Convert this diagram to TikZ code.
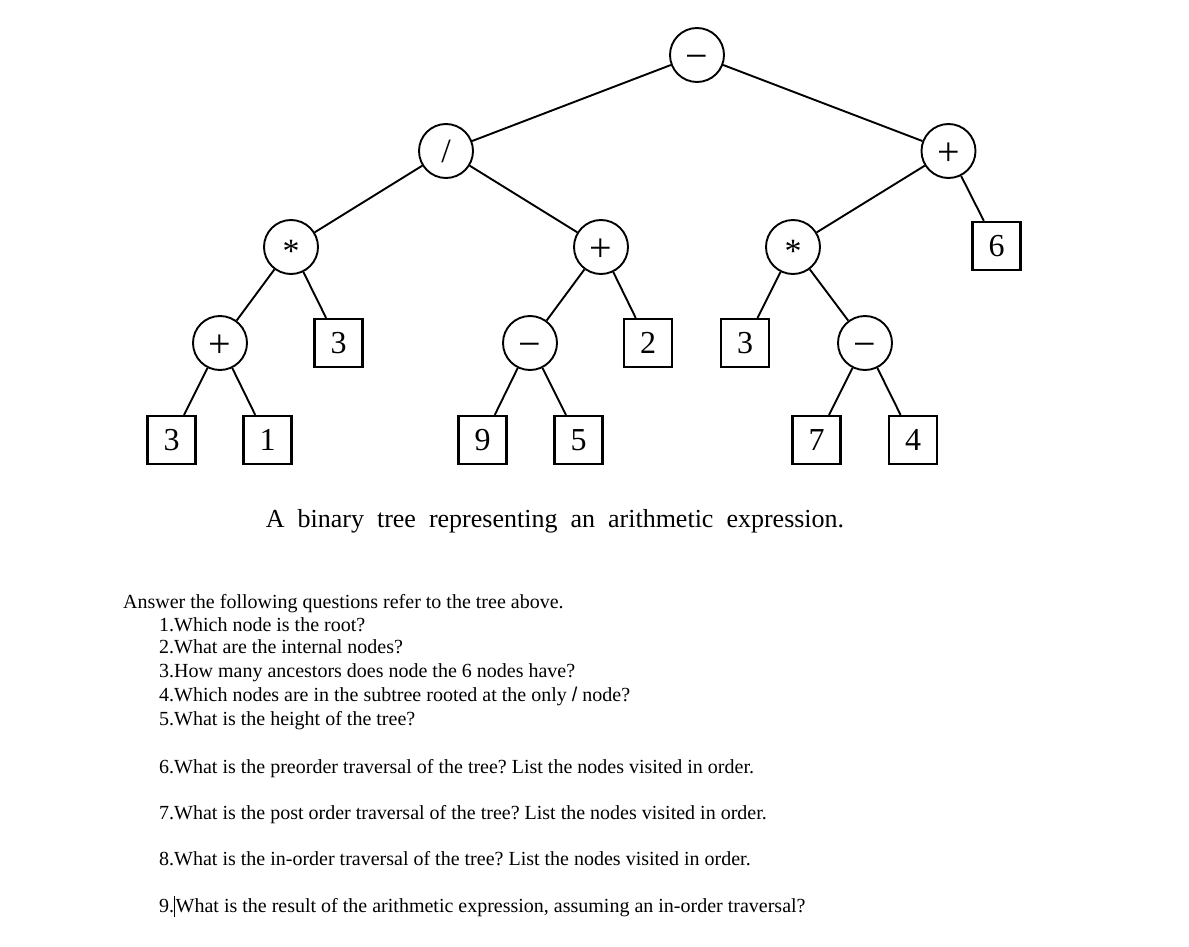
\documentclass[tikz,border=0pt]{standalone}
\usepackage{fontspec}
\setmainfont{Liberation Serif}
\setsansfont{Liberation Sans}
\frenchspacing
\begin{document}
\begin{tikzpicture}[x=1pt,y=-1pt,
  op/.style={draw,circle,line width=1.9pt,minimum size=54pt,inner sep=0pt,font=\fontsize{40}{40}\selectfont,text height=28.4pt,text depth=0pt},
  opminus/.style={op,text height=29pt,text depth=0pt},
  opast/.style={op,font=\fontsize{34}{34}\selectfont,text height=30pt,text depth=0pt},
  opdiv/.style={op,font=\fontsize{34}{34}\selectfont,text height=22.6pt,text depth=0pt},
  leaf/.style={draw,rectangle,line width=2.2pt,minimum size=48pt,inner sep=0pt,font=\fontsize{32}{32}\selectfont,text height=21.6pt,text depth=0pt},
  edge/.style={line width=1.9pt},
  qtext/.style={anchor=base west,inner sep=0pt,font=\fontsize{20}{20}\selectfont},
  captext/.style={anchor=base,inner sep=0pt,font=\fontsize{26}{26}\selectfont}]
\useasboundingbox (0,0) rectangle (1189,947);
% internal nodes
\node[opminus] (root) at (697,55) {−};
\node[opdiv] (div) at (446,151) {/};
\node[op] (plusR) at (948.5,151) {+};
\node[opast] (mulL) at (291,247) {*};
\node[op] (plusM) at (601,247) {+};
\node[opast] (mulR) at (793,247) {*};
\node[op] (plusL) at (220,343) {+};
\node[opminus] (minM) at (530,343) {−};
\node[opminus] (minR) at (865,343) {−};
% leaves
\node[leaf] (l6) at (996.5,246) {6};
\node[leaf] (l3a) at (338.5,343) {3};
\node[leaf] (l2) at (648,343) {2};
\node[leaf] (l3b) at (745,343) {3};
\node[leaf] (l3c) at (171.5,440) {3};
\node[leaf] (l1) at (267.5,440) {1};
\node[leaf] (l9) at (482.5,440) {9};
\node[leaf] (l5) at (578.5,440) {5};
\node[leaf] (l7) at (816.5,440) {7};
\node[leaf] (l4) at (913,440) {4};
% edges
\draw[edge] (root) -- (div);
\draw[edge] (root) -- (plusR);
\draw[edge] (div) -- (mulL);
\draw[edge] (div) -- (plusM);
\draw[edge] (plusR) -- (mulR);
\draw[edge] (plusR) -- (l6);
\draw[edge] (mulL) -- (plusL);
\draw[edge] (mulL) -- (l3a);
\draw[edge] (plusM) -- (minM);
\draw[edge] (plusM) -- (l2);
\draw[edge] (mulR) -- (l3b);
\draw[edge] (mulR) -- (minR);
\draw[edge] (plusL) -- (l3c);
\draw[edge] (plusL) -- (l1);
\draw[edge] (minM) -- (l9);
\draw[edge] (minM) -- (l5);
\draw[edge] (minR) -- (l7);
\draw[edge] (minR) -- (l4);
% caption
\node[captext] (cap) at (555,527) {A\ \ binary\ \ tree\ \ representing\ \ an\ \ arithmetic\ \ expression.};
% questions
\node[qtext] (q0) at (123,608) {Answer the following questions refer to the tree above.};
\node[qtext] (q1) at (159,631) {1.Which node is the root?};
\node[qtext] (q2) at (159,653) {2.What are the internal nodes?};
\node[qtext] (q3) at (159,677) {3.How many ancestors does node the 6 nodes have?};
\node[qtext] (q4) at (159,701) {4.Which nodes are in the subtree rooted at the only {\sffamily /} node?};
\node[qtext] (q5) at (159,725) {5.What is the height of the tree?};
\node[qtext] (q6) at (159,773) {6.What is the preorder traversal of the tree? List the nodes visited in order.};
\node[qtext] (q7) at (159,819) {7.What is the post order traversal of the tree? List the nodes visited in order.};
\node[qtext] (q8) at (159,865) {8.What is the in-order traversal of the tree? List the nodes visited in order.};
\node[qtext] (q9) at (159,912) {9.\hspace{1.5pt}What is the result of the arithmetic expression, assuming an in-order traversal?};
\draw[line width=0.8pt] (174,896) -- (174,917);
\end{tikzpicture}
\end{document}
